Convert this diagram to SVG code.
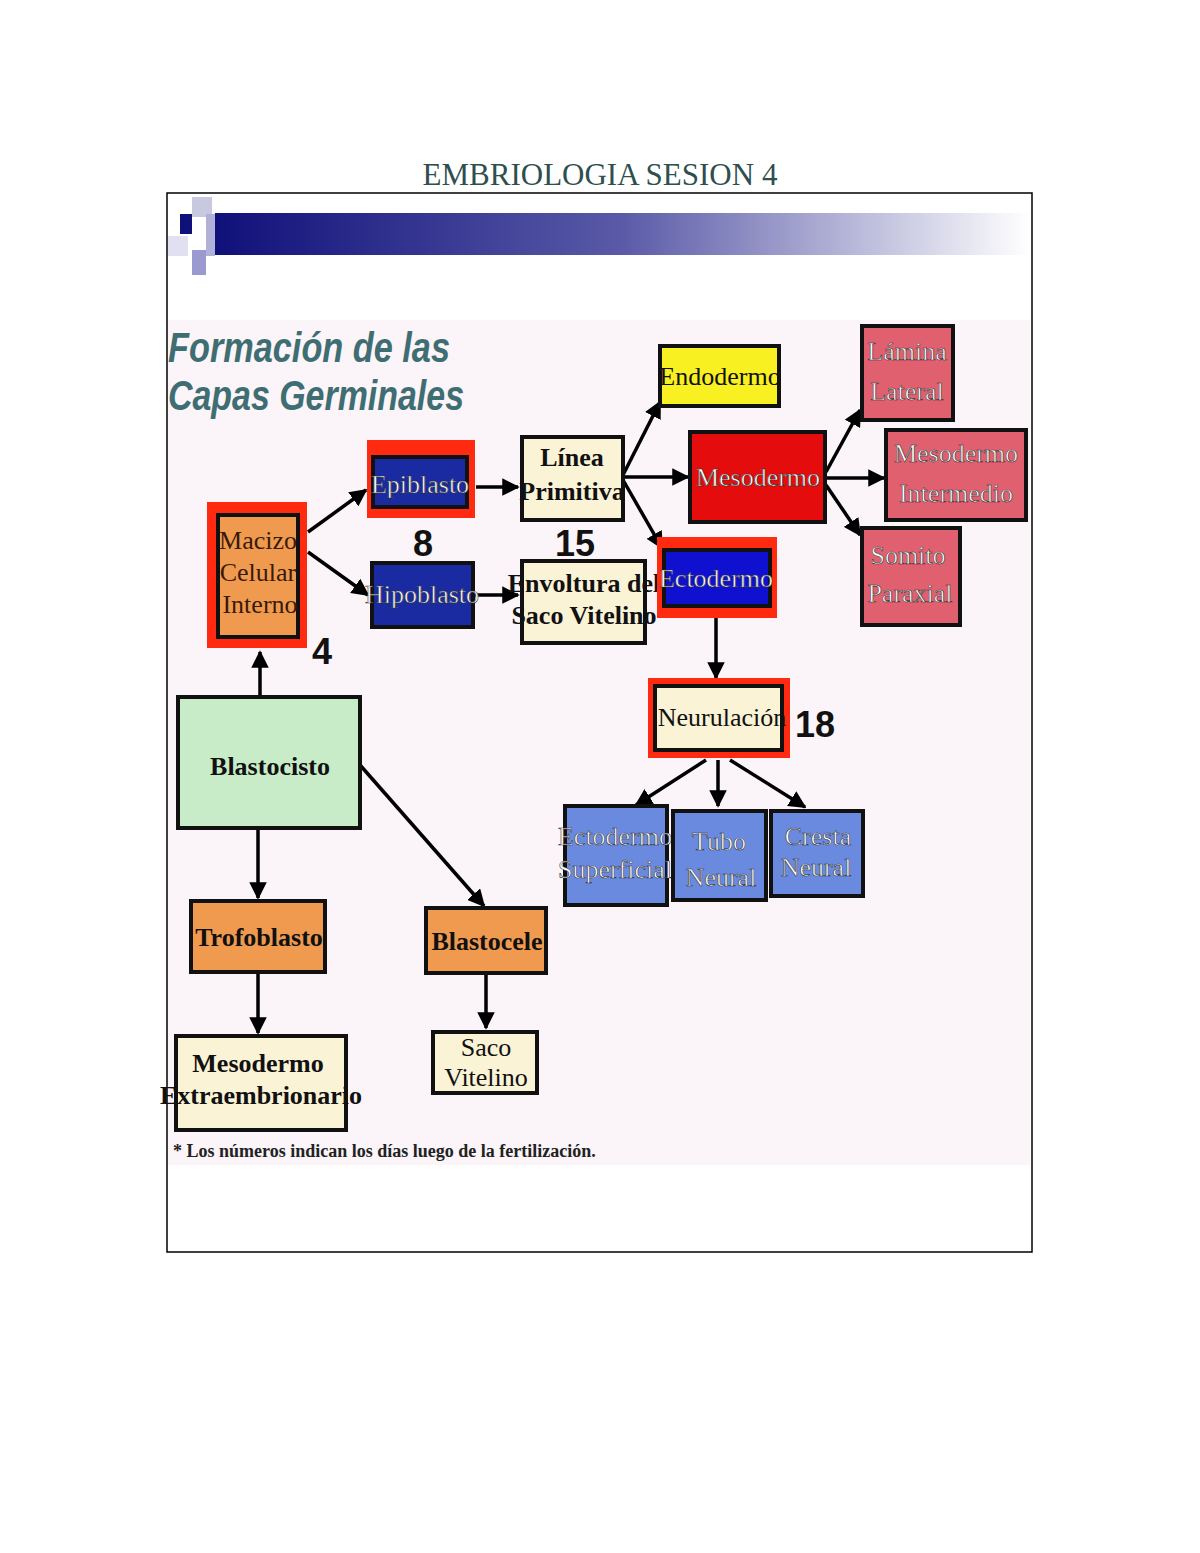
<svg xmlns="http://www.w3.org/2000/svg" width="1200" height="1553" viewBox="0 0 1200 1553">
<defs>
<linearGradient id="bar" x1="0" x2="1" y1="0" y2="0"><stop offset="0" stop-color="#10107a"/><stop offset="0.5" stop-color="#5a5aa8"/><stop offset="1" stop-color="#ffffff"/></linearGradient>
<marker id="ah" viewBox="0 0 10 10" refX="9" refY="5" markerWidth="5" markerHeight="5" orient="auto"><path d="M0,0 L10,5 L0,10 z" fill="#000"/></marker>
<style>
.b{stroke:#111;stroke-width:4}
.t{font-family:"Liberation Serif",serif;font-size:26px;text-anchor:middle;transform-box:fill-box}
.w{fill:#fff;stroke:#333;stroke-width:0.6}
.k{fill:#111}
.n{font-family:"Liberation Sans",sans-serif;font-weight:bold;font-size:36px;fill:#111;text-anchor:middle}
#conn line{stroke:#000;stroke-width:3.5;marker-end:url(#ah)}
</style>
</defs>
<rect width="1200" height="1553" fill="#fff"/>
<text x="600" y="185" font-family="Liberation Serif,serif" font-size="31" fill="#2f4f4f" text-anchor="middle">EMBRIOLOGIA SESION 4</text>
<rect x="167" y="193" width="865" height="1059" fill="#fff" stroke="#000" stroke-width="1.5"/>
<rect x="168" y="320" width="862" height="845" fill="#fbf4f9"/>
<rect x="215" y="213" width="815" height="42" fill="url(#bar)"/>
<rect x="180" y="214" width="12" height="20" fill="#10107a"/>
<rect x="192" y="197" width="20" height="20" fill="#c8c8e0"/>
<rect x="206" y="214" width="9" height="42" fill="#b0b0d8"/>
<rect x="192" y="250" width="14" height="25" fill="#9a9ad0"/>
<rect x="168" y="236" width="20" height="20" fill="#e0e0f0"/>
<text font-family="Liberation Sans,sans-serif" font-weight="bold" font-style="italic" font-size="42" fill="#3f6e72"><tspan x="168" y="362" textLength="282" lengthAdjust="spacingAndGlyphs">Formación de las</tspan><tspan x="168" y="410" textLength="296" lengthAdjust="spacingAndGlyphs">Capas Germinales</tspan></text>
<g id="conn">
<line x1="260" y1="697" x2="260" y2="652"/>
<line x1="308" y1="532" x2="366" y2="490"/>
<line x1="308" y1="552" x2="368" y2="595"/>
<line x1="476" y1="487" x2="518" y2="487"/>
<line x1="474" y1="595" x2="518" y2="595"/>
<line x1="623" y1="475" x2="660" y2="402"/>
<line x1="623" y1="477" x2="688" y2="477"/>
<line x1="623" y1="480" x2="662" y2="548"/>
<line x1="826" y1="472" x2="860" y2="410"/>
<line x1="826" y1="478" x2="884" y2="478"/>
<line x1="826" y1="485" x2="860" y2="535"/>
<line x1="716" y1="618" x2="716" y2="678"/>
<line x1="706" y1="760" x2="636" y2="805"/>
<line x1="718" y1="760" x2="718" y2="806"/>
<line x1="730" y1="760" x2="805" y2="807"/>
<line x1="360" y1="765" x2="484" y2="906"/>
<line x1="258" y1="828" x2="258" y2="898"/>
<line x1="258" y1="972" x2="258" y2="1033"/>
<line x1="486" y1="973" x2="486" y2="1028"/>
</g>
<g id="macizo"><rect x="207" y="502" width="100" height="146" fill="#ff2a10"/><rect x="218" y="515" width="80" height="122" fill="#f09a50" class="b"/><text class="t" fill="#3a1a0a"><tspan x="258" y="549">Macizo</tspan><tspan x="258" y="581">Celular</tspan><tspan x="260" y="613">Interno</tspan></text></g>
<g id="epiblasto"><rect x="367" y="440" width="108" height="78" fill="#ff2a10"/><rect x="373" y="457" width="94" height="50" fill="#1a2aa0" class="b"/><text class="t w" x="420" y="493">Epiblasto</text></g>
<g id="hipoblasto"><rect x="372" y="563" width="101" height="64" fill="#1a2aa0" class="b"/><text class="t w" x="422" y="603">Hipoblasto</text></g>
<g id="linea"><rect x="522" y="437" width="101" height="83" fill="#fbf3d5" class="b"/><text class="t k" font-weight="bold" font-size="24"><tspan x="572" y="466">Línea</tspan><tspan x="572" y="500">Primitiva</tspan></text></g>
<g id="envoltura"><rect x="522" y="561" width="123" height="82" fill="#fbf3d5" class="b"/><text class="t k" font-weight="bold" font-size="21"><tspan x="584" y="592">Envoltura del</tspan><tspan x="584" y="624">Saco Vitelino</tspan></text></g>
<g id="endodermo"><rect x="660" y="346" width="119" height="60" fill="#f8f020" class="b"/><text class="t k" x="720" y="385">Endodermo</text></g>
<g id="mesodermo"><rect x="690" y="432" width="135" height="90" fill="#e40c0c" class="b"/><text class="t w" x="758" y="486" font-size="28">Mesodermo</text></g>
<g id="ectodermo"><rect x="657" y="537" width="120" height="81" fill="#ff2a10"/><rect x="664" y="550" width="106" height="56" fill="#1010d0" class="b"/><text class="t w" x="716" y="587">Ectodermo</text></g>
<g id="lamina"><rect x="862" y="326" width="91" height="94" fill="#e06070" class="b"/><text class="t w"><tspan x="907" y="360">Lámina</tspan><tspan x="907" y="400">Lateral</tspan></text></g>
<g id="intermedio"><rect x="886" y="430" width="140" height="90" fill="#e06070" class="b"/><text class="t w"><tspan x="956" y="462">Mesodermo</tspan><tspan x="956" y="502">Intermedio</tspan></text></g>
<g id="somito"><rect x="862" y="528" width="98" height="97" fill="#e06070" class="b"/><text class="t w"><tspan x="908" y="564">Somito</tspan><tspan x="910" y="602">Paraxial</tspan></text></g>
<g id="neurulacion"><rect x="648" y="678" width="142" height="80" fill="#ff2a10"/><rect x="655" y="686" width="127" height="64" fill="#fbf3d5" class="b"/><text class="t k" x="722" y="726">Neurulación</text></g>
<g id="blastocisto"><rect x="178" y="697" width="182" height="131" fill="#c8ecc8" class="b"/><text class="t k" x="270" y="775" font-weight="bold" font-size="38">Blastocisto</text></g>
<g id="trofoblasto"><rect x="191" y="901" width="134" height="71" fill="#f09a50" class="b"/><text class="t k" x="259" y="946" font-weight="bold" font-size="28">Trofoblasto</text></g>
<g id="blastocele"><rect x="426" y="908" width="120" height="65" fill="#f09a50" class="b"/><text class="t k" x="487" y="950" font-weight="bold" font-size="27">Blastocele</text></g>
<g id="extra"><rect x="176" y="1036" width="170" height="94" fill="#fbf3d5" class="b"/><text class="t k" font-weight="bold" font-size="24"><tspan x="258" y="1072">Mesodermo</tspan><tspan x="261" y="1104">Extraembrionario</tspan></text></g>
<g id="saco"><rect x="433" y="1032" width="104" height="61" fill="#fbf3d5" class="b"/><text class="t k" font-size="22"><tspan x="486" y="1056">Saco</tspan><tspan x="486" y="1086">Vitelino</tspan></text></g>
<g id="superficial"><rect x="565" y="806" width="102" height="99" fill="#6a8ae0" class="b"/><text class="t w"><tspan x="615" y="845">Ectodermo</tspan><tspan x="615" y="878">Superficial</tspan></text></g>
<g id="tubo"><rect x="673" y="811" width="93" height="89" fill="#6a8ae0" class="b"/><text class="t w"><tspan x="719" y="850">Tubo</tspan><tspan x="721" y="886">Neural</tspan></text></g>
<g id="cresta"><rect x="771" y="811" width="92" height="85" fill="#6a8ae0" class="b"/><text class="t w"><tspan x="818" y="845">Cresta</tspan><tspan x="816" y="876">Neural</tspan></text></g>
<text class="n" x="423" y="556">8</text>
<text class="n" x="575" y="556">15</text>
<text class="n" x="322" y="664">4</text>
<text class="n" x="815" y="737">18</text>
<text x="173" y="1157" font-family="Liberation Serif,serif" font-weight="bold" font-size="18" fill="#222">* Los números indican los días luego de la fertilización.</text>
</svg>
